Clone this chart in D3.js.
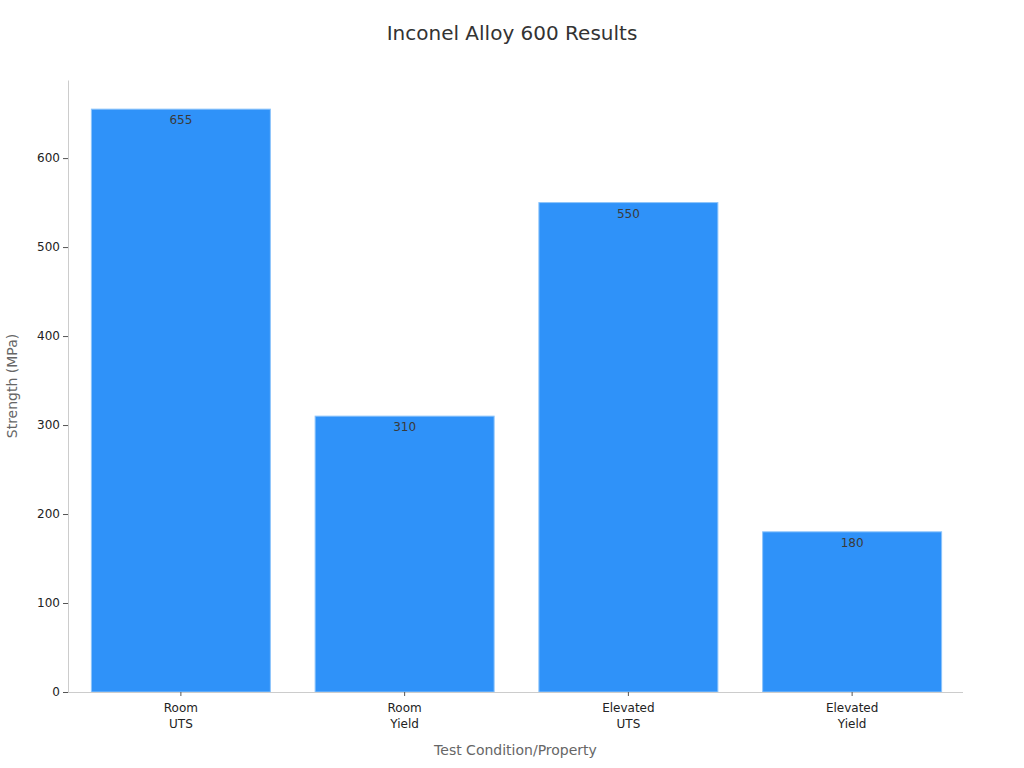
<!DOCTYPE html>
<html>
<head>
<meta charset="utf-8">
<script src="https://cdn.jsdelivr.net/npm/d3@7"></script>
<style>
  body { margin: 0; background: #fff; font-family: "DejaVu Sans", sans-serif; }
</style>
</head>
<body>
<div id="viz"></div>
<script>
"use strict";

const categories = [["Room", "UTS"], ["Room", "Yield"], ["Elevated", "UTS"], ["Elevated", "Yield"]];
const strength = [655, 310, 550, 180];
const yTicks = [0, 100, 200, 300, 400, 500, 600];

const width = 1024, height = 768;
const margin = {left: 68, right: 61, top: 80, bottom: 76};

const svg = d3.select("#viz").append("svg")
    .attr("width", width)
    .attr("height", height);

const keys = categories.map(d => d.join(" "));

let xScale = d3.scaleBand()
    .domain(keys)
    .range([margin.left + 1, width - margin.right + 1])
    .paddingInner(0.2)
    .paddingOuter(0.1);

let yScale = d3.scaleLinear()
    .domain([0, d3.max(strength) * 1.05])
    .range([height - margin.bottom, margin.top]);

// title
svg.append("text")
    .attr("x", 512).attr("y", 40)
    .attr("text-anchor", "middle")
    .attr("font-size", "20px")
    .attr("fill", "#333")
    .text("Inconel Alloy 600 Results");

// bars
svg.selectAll("rect.bar")
    .data(strength)
    .enter().append("rect")
    .attr("class", "bar")
    .attr("x", (d, i) => xScale(keys[i]))
    .attr("y", d => yScale(d))
    .attr("width", xScale.bandwidth())
    .attr("height", d => yScale(0) - yScale(d))
    .attr("fill", "#2f92f9")
    .attr("stroke", "#8cc4fb")
    .attr("stroke-width", 1);

// value labels
svg.selectAll("text.val")
    .data(strength)
    .enter().append("text")
    .attr("class", "val")
    .attr("x", (d, i) => xScale(keys[i]) + xScale.bandwidth() / 2)
    .attr("y", d => yScale(d) + 15)
    .attr("text-anchor", "middle")
    .attr("font-size", "12px")
    .attr("fill", "#3a3a3a")
    .text(d => d);

// y axis
let yAxis = svg.append("g")
    .attr("transform", `translate(${margin.left},0)`)
    .call(d3.axisLeft(yScale).tickValues(yTicks).tickSize(5).tickSizeOuter(0).tickPadding(3));
yAxis.select(".domain").attr("stroke", "#ccc");
yAxis.selectAll(".tick line").attr("stroke", "#555");
yAxis.selectAll(".tick text").attr("font-size", "12px").attr("fill", "#222")
    .attr("font-family", "DejaVu Sans, sans-serif");

// x axis
let xAxis = svg.append("g")
    .attr("transform", `translate(0,${height - margin.bottom})`)
    .call(d3.axisBottom(xScale).tickSize(4).tickSizeOuter(0));
xAxis.select(".domain").attr("stroke", "#ccc")
    .attr("d", `M${margin.left},0.5H${width - margin.right}`);
xAxis.selectAll(".tick line").attr("stroke", "#555");
xAxis.selectAll(".tick text").remove();
xAxis.selectAll(".tick").each(function(d, i) {
    let t = d3.select(this).append("text")
        .attr("fill", "#222")
        .attr("font-size", "12px")
        .attr("font-family", "DejaVu Sans, sans-serif")
        .attr("text-anchor", "middle");
    categories[i].forEach((line, j) => {
        t.append("tspan").attr("x", 0).attr("y", 20 + j * 16).text(line);
    });
});

// axis titles
svg.append("text")
    .attr("x", (margin.left + width - margin.right) / 2)
    .attr("y", 755)
    .attr("text-anchor", "middle")
    .attr("font-size", "14px")
    .attr("fill", "#666")
    .text("Test Condition/Property");

svg.append("text")
    .attr("transform", `translate(17,${(margin.top + height - margin.bottom) / 2}) rotate(-90)`)
    .attr("text-anchor", "middle")
    .attr("font-size", "14px")
    .attr("fill", "#666")
    .text("Strength (MPa)");
</script>
</body>
</html>
